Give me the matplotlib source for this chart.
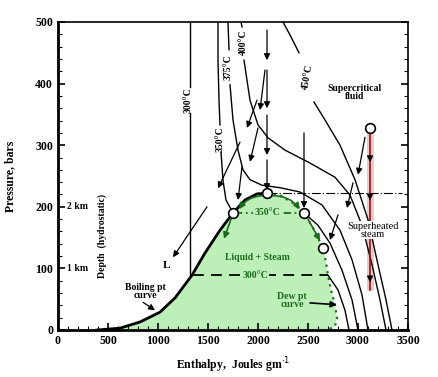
import matplotlib
matplotlib.use('Agg')
import matplotlib.pyplot as plt
from matplotlib.ticker import MultipleLocator

# two-phase dome: boiling curve (left) and dew curve (right), enthalpy J/g vs pressure bar
boil_h = [390, 620, 820, 1020, 1170, 1340, 1470, 1620, 1750, 1870, 1990, 2090]
boil_p = [0, 3, 13, 29, 52, 89, 125, 162, 190, 211, 221, 222]
dew_h = [2090, 2220, 2350, 2460, 2550, 2650, 2680, 2700, 2730, 2770, 2790, 2770, 2700]
dew_p = [222, 219, 206, 190, 166, 133, 110, 89, 65, 41, 19, 6, 0]

# isotherms (liquid / supercritical side), split where the label sits
iso_300_h = [[1320, 1320], [1320, 1320]]
iso_300_p = [[500, 395], [352, 89]]
iso_350_h = [[1600, 1600, 1610, 1620], [1630, 1650, 1680, 1750]]
iso_350_p = [[500, 438, 373, 333], [289, 243, 211, 190]]
iso_375_h = [[1700, 1710], [1720, 1750, 1800, 1850, 1920, 2040, 2220, 2420, 2640, 2820, 2940, 3040, 3100]]
iso_375_p = [[500, 455], [398, 341, 292, 260, 244, 235, 231, 224, 203, 162, 114, 57, 0]]
iso_400_h = [[1830, 1840], [1860, 1920, 2000, 2100, 2270, 2520, 2770, 2920, 3040, 3140, 3220, 3280]]
iso_400_p = [[500, 492], [438, 373, 333, 312, 292, 271, 248, 219, 170, 106, 49, 0]]
iso_450_h = [[2250, 2320, 2410], [2560, 2670, 2820, 2970, 3100, 3200, 3280, 3340]]
iso_450_p = [[500, 479, 450], [370, 341, 300, 244, 179, 106, 49, 0]]
# isotherms on the steam side of the dome
sup_350_h = [2460, 2600, 2720, 2840, 2940, 3000]
sup_350_p = [190, 170, 141, 97, 49, 0]
sup_300_h = [2700, 2800, 2870, 2910]
sup_300_p = [89, 65, 32, 0]

# state points (circles)
pt_h = [2090, 1750, 2460, 2650, 3120]
pt_p = [222, 190, 190, 133, 328]

# black process arrows (h0, p0, h1, p1)
black_arrows = [
    (1990, 373, 1890, 328), (2070, 422, 2020, 357), (2000, 328, 1920, 273),
    (1820, 305, 1600, 230), (1840, 265, 1800, 211), (1490, 200, 1150, 118),
    (2090, 487, 2090, 438), (2090, 422, 2090, 360), (2090, 349, 2090, 284),
    (2090, 276, 2090, 227), (2460, 320, 2460, 198),
    (3070, 313, 3000, 252), (2950, 239, 2890, 198), (2800, 187, 2720, 146),
    (850, 45, 970, 32),
]
# green arrows inside the dome
green_arrows = [
    (2040, 218, 1810, 196), (2150, 218, 2420, 196),
    (1730, 180, 1660, 148), (2500, 180, 2620, 145), (2520, 44, 2790, 41),
]
# red decompression path
red_h = [3120, 3120]
red_p = [320, 65]
red_heads = [268, 206, 149, 73]

green = '#bdf0b8'
dkgreen = '#1d6b1d'
serif = ['Liberation Serif', 'DejaVu Serif']
plt.rcParams['font.family'] = serif

fig = plt.figure(figsize=(4.39, 3.77), dpi=100)
ax = fig.add_axes([58 / 439, 47 / 377, 350 / 439, 308 / 377])

ax.fill(boil_h + dew_h[1:], boil_p + dew_p[1:], color=green, lw=0, zorder=0)
ax.plot(boil_h, boil_p, color='black', lw=2, zorder=2)
ax.plot(dew_h, dew_p, color=dkgreen, lw=1.6, ls=(0, (1, 2)), zorder=2)

for hs, ps in [(iso_300_h, iso_300_p), (iso_350_h, iso_350_p), (iso_375_h, iso_375_p),
               (iso_400_h, iso_400_p), (iso_450_h, iso_450_p)]:
    for h, p in zip(hs, ps):
        ax.plot(h, p, color='black', lw=1.0, zorder=2)
ax.plot(sup_350_h, sup_350_p, color='black', lw=1.0)
ax.plot(sup_300_h, sup_300_p, color='black', lw=1.0)

# tie lines across the dome
ax.plot([1345, 2700], [89, 89], color='black', lw=1.3, ls=(0, (6, 4)), zorder=2)
ax.plot([1770, 2440], [190, 190], color=dkgreen, lw=1.3, ls=(0, (4, 2, 1, 2)), zorder=2)
ax.plot([2100, 3440], [222, 222], color='black', lw=0.8, ls=(0, (8, 2, 1, 2)), zorder=2)

ax.plot(red_h, red_p, color='#f3c6c6', lw=5, zorder=1, solid_capstyle='butt')
ax.plot(red_h, red_p, color='#8b1a1a', lw=1.2, zorder=2)
for p in red_heads:
    ax.annotate('', xy=(red_h[0], p), xytext=(red_h[0], p + 20),
                arrowprops=dict(arrowstyle='-|>', color='black', lw=0.8, mutation_scale=9))

for h0, p0, h1, p1 in black_arrows:
    ax.annotate('', xy=(h1, p1), xytext=(h0, p0),
                arrowprops=dict(arrowstyle='-|>', color='black', lw=0.9,
                                mutation_scale=9, shrinkA=0, shrinkB=0))
for i, (h0, p0, h1, p1) in enumerate(green_arrows):
    rad = 0.25 if i == 0 else (-0.25 if i == 1 else 0)
    ax.annotate('', xy=(h1, p1), xytext=(h0, p0),
                arrowprops=dict(arrowstyle='-|>', color=dkgreen if i < 4 else 'black', lw=1.2,
                                mutation_scale=9, shrinkA=0, shrinkB=0,
                                connectionstyle='arc3,rad=%s' % rad))

ax.plot(pt_h, pt_p, 'o', ms=7, mfc='white', mec='black', mew=1.2, zorder=5)

# labels
lab = dict(fontsize=7, fontweight='bold', ha='center', va='center')
ax.text(1300, 373, '300°C', rotation=90, **lab)
ax.text(1620, 310, '350°C', rotation=90, **lab)
ax.text(1705, 427, '375°C', rotation=90, **lab)
ax.text(1850, 467, '400°C', rotation=90, **lab)
ax.text(2500, 410, '450°C', rotation=80, **lab)
ax.text(2970, 386, 'Supercritical\nfluid', fontsize=7, fontweight='bold', ha='center',
        va='center', linespacing=0.9)
ax.text(3150, 162, 'Superheated\nsteam', fontsize=7.5, ha='center', va='center',
        linespacing=0.9, bbox=dict(fc='white', ec='none', pad=0.3))
ax.text(1990, 118, 'Liquid + Steam', fontsize=7, fontweight='bold', color=dkgreen,
        ha='center', va='center')
ax.text(1970, 89, '300°C', fontsize=7, fontweight='bold', color=dkgreen, ha='center',
        va='center', bbox=dict(fc=green, ec='none', pad=0.5))
ax.text(2090, 190, '350°C', fontsize=7, fontweight='bold', color=dkgreen, ha='center',
        va='center', bbox=dict(fc=green, ec='none', pad=0.5))
ax.text(2340, 48, 'Dew pt\ncurve', fontsize=7, fontweight='bold', color=dkgreen,
        ha='center', va='center', linespacing=0.9)
ax.text(870, 62, 'Boiling pt\ncurve', fontsize=7, fontweight='bold', ha='center',
        va='center', linespacing=0.9)
ax.text(1090, 105, 'L', fontsize=8, fontweight='bold', ha='center', va='center')
ax.text(90, 200, '2 km', fontsize=7, fontweight='bold', ha='left', va='center')
ax.text(90, 100, '1 km', fontsize=7, fontweight='bold', ha='left', va='center')
ax.text(440, 152, 'Depth  (hydrostatic)', fontsize=7, fontweight='bold', rotation=90,
        ha='center', va='center')

ax.set_xlim(0, 3500)
ax.set_ylim(0, 500)
ax.set_xticks(range(0, 3501, 500))
ax.set_yticks(range(0, 501, 100))
ax.xaxis.set_minor_locator(MultipleLocator(100))
ax.yaxis.set_minor_locator(MultipleLocator(20))
ax.tick_params(which='both', direction='in', right=True, top=False, labelsize=8.5)
ax.tick_params(which='major', length=5, width=1.2)
ax.tick_params(which='minor', length=3, width=0.8)
for lbl in ax.get_xticklabels() + ax.get_yticklabels():
    lbl.set_fontweight('bold')
ax.spines['left'].set_linewidth(2)
ax.spines['bottom'].set_linewidth(2)
ax.spines['top'].set_linewidth(1.2)
ax.spines['right'].set_linewidth(1.2)

ax.set_xlabel('Enthalpy,  Joules gm$^{\\cdot 1}$', fontsize=8.5, fontweight='bold', labelpad=6)
ax.set_ylabel('Pressure, bars', fontsize=8.5, fontweight='bold', labelpad=14)

fig.savefig('out.png', dpi=100)
